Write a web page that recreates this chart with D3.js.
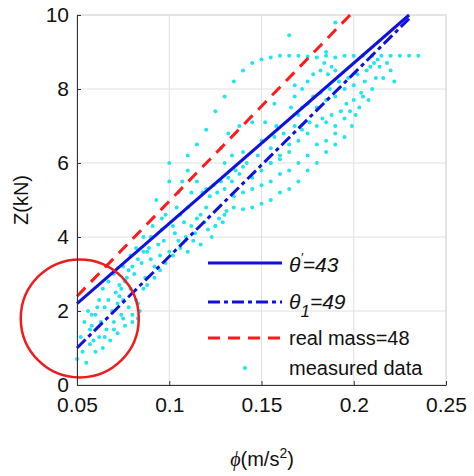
<!DOCTYPE html>
<html><head><meta charset="utf-8">
<script src="https://cdn.jsdelivr.net/npm/d3@7"></script>
<style>body{margin:0;background:#fff}text{font-family:"Liberation Sans",Arial,sans-serif}</style>
</head><body><svg id="c" width="474" height="476"></svg>
<script>
const xTicks=[0.05,0.1,0.15,0.2,0.25];
const yTicks=[0,2,4,6,8,10];
const lineTheta=[[0.05,2.2],[0.23,10]];
const lineTheta1=[[0.05,1.0],[0.23,9.9]];
const lineReal=[[0.05,2.4],[0.198,10]];
const circle={cx:0.0515,cy:1.8,rpx:59};
const measured=[
[0.050,0.7],[0.053,0.9],[0.055,0.6],[0.057,1.1],[0.060,0.9],[0.062,1.3],[0.064,1.0],[0.066,1.5],[0.068,1.2],[0.070,1.7],[0.072,1.4],[0.074,1.9],[0.076,1.6],[0.078,2.1],[0.080,1.9],[0.082,2.3],[0.084,2.0],[0.083,1.8],[0.052,1.3],[0.054,1.7],[0.056,2.0],[0.058,1.6],[0.060,1.9],[0.063,1.7],[0.065,2.1],[0.067,2.3],[0.069,2.0],[0.071,2.5],[0.073,2.7],[0.075,2.3],[0.077,2.9],[0.079,2.6],[0.081,3.0],[0.085,3.3],[0.087,2.9],[0.090,3.4],[0.088,3.6],[0.092,3.2],[0.094,3.8],[0.090,4.0],[0.096,4.2],[0.093,5.0],[0.100,5.5],[0.098,4.6],[0.102,4.3],[0.105,3.9],[0.100,3.6],[0.108,4.4],[0.110,4.8],[0.112,5.2],[0.115,5.5],[0.118,5.2],[0.120,4.8],[0.115,4.5],[0.100,6.0],[0.074,2.6],[0.073,2.4],[0.072,2.2],[0.076,2.8],[0.078,3.1],[0.080,3.2],[0.083,3.4],[0.086,3.6],[0.089,3.7],[0.095,3.5],[0.097,3.9],[0.103,4.1],[0.106,4.6],[0.109,4.0],[0.112,4.3],[0.114,4.1],[0.117,4.6],[0.119,4.4],[0.121,4.2],[0.123,4.0],[0.125,4.3],[0.127,4.5],[0.129,4.4],[0.131,4.7],[0.120,5.3],[0.122,5.1],[0.124,5.4],[0.126,5.2],[0.128,5.5],[0.130,5.3],[0.132,5.6],[0.134,5.5],[0.136,5.8],[0.138,5.7],[0.140,5.9],[0.142,6.0],
[0.130,6.0],[0.128,6.4],[0.132,6.8],[0.138,7.0],[0.145,7.1],[0.152,7.1],[0.158,7.0],[0.162,6.8],[0.165,6.5],[0.160,6.2],[0.155,6.0],[0.148,6.2],[0.140,6.3],[0.134,6.2],[0.150,6.6],[0.155,6.4],[0.157,6.7],
[0.125,4.3],[0.130,4.6],[0.135,4.8],[0.140,4.75],[0.145,4.8],[0.150,4.9],[0.155,5.0],[0.160,5.2],[0.165,5.3],[0.170,5.5],[0.175,5.8],[0.180,6.0],[0.185,6.3],[0.190,6.5],[0.195,6.7],[0.190,6.8],[0.185,6.6],[0.180,6.5],[0.175,6.2],[0.170,6.0],[0.165,5.8],[0.160,5.7],[0.155,5.5],[0.150,5.4],[0.145,5.3],[0.140,5.2],[0.135,5.1],[0.145,5.6],[0.150,5.8],[0.155,6.0],[0.160,6.1],[0.165,6.3],[0.170,6.6],[0.175,6.8],[0.180,7.0],[0.185,7.1],[0.190,7.0],[0.195,7.2],
[0.120,6.9],[0.125,7.4],[0.130,7.8],[0.135,8.2],[0.140,8.5],[0.145,8.7],[0.150,8.8],[0.155,8.85],[0.160,8.9],[0.165,8.9],[0.170,8.9],[0.175,8.88],[0.180,8.85],[0.185,8.9],[0.190,8.85],[0.195,8.9],[0.200,8.9],[0.205,8.9],[0.210,8.9],[0.215,8.9],[0.220,8.9],[0.225,8.9],[0.230,8.9],[0.235,8.9],[0.115,6.5],[0.110,6.2],
[0.170,7.3],[0.172,7.5],[0.175,7.6],[0.178,7.8],[0.180,7.5],[0.182,7.9],[0.185,7.7],[0.187,8.0],[0.190,7.8],[0.192,8.2],[0.195,8.0],[0.197,8.3],[0.200,8.1],[0.202,8.4],[0.204,7.9],[0.206,8.2],[0.208,7.7],[0.210,8.0],[0.212,8.3],[0.214,8.6],[0.216,8.3],[0.218,8.7],[0.220,8.5],[0.222,8.2],[0.196,7.6],[0.198,7.4],[0.200,7.7],[0.203,7.5],[0.205,7.8],[0.207,8.5],[0.209,8.6],[0.211,8.7],[0.213,8.8],[0.190,8.5],[0.188,8.6],[0.186,8.4],[0.184,8.7],[0.182,8.5],[0.178,8.4],[0.175,8.2],[0.172,8.0],[0.168,7.8],[0.166,7.5],[0.183,7.2],[0.188,7.3],[0.193,7.4],[0.199,7.0],[0.201,7.3],[0.176,7.1],[0.172,6.9],[0.168,7.0],
[0.190,9.8],[0.165,9.45],[0.185,9.0],[0.168,8.1],[0.157,7.6],[0.110,5.8],[0.107,5.5],[0.105,5.2],[0.104,4.8],[0.096,4.5],[0.091,4.3],[0.086,4.0],[0.082,3.7],[0.079,3.5],[0.075,3.2],[0.070,3.0],[0.067,2.8],[0.064,2.6],[0.062,2.3],[0.061,2.1],[0.058,1.9],[0.057,1.5],[0.059,1.2],[0.065,1.3],[0.070,1.5],[0.075,1.8],[0.080,1.7],[0.083,2.2],[0.086,2.6],[0.088,2.7],[0.092,2.9],[0.095,3.1],[0.098,3.3],[0.102,3.5],[0.106,3.7],[0.110,3.6],[0.113,3.9],[0.117,3.8]
];
const legendLabels=["θ′=43","θ1=49","real mass=48","measured data"];

const svg=d3.select("#c");
const m={l:77,r:446,t:15,b:385};
const x=d3.scaleLinear().domain([0.05,0.25]).range([m.l,m.r]);
const y=d3.scaleLinear().domain([0,10]).range([m.b,m.t]);
const g=svg.append("g");
g.selectAll(".gx").data(xTicks).join("line").attr("x1",d=>x(d)).attr("x2",d=>x(d)).attr("y1",m.t).attr("y2",m.b).attr("stroke","#e0e0e0");
g.selectAll(".gy").data(yTicks).join("line").attr("y1",d=>y(d)).attr("y2",d=>y(d)).attr("x1",m.l).attr("x2",m.r).attr("stroke","#e0e0e0");
g.append("rect").attr("x",m.l).attr("y",m.t).attr("width",m.r-m.l).attr("height",m.b-m.t).attr("fill","none").attr("stroke","#d8d8d8");
g.selectAll(".pt").data(measured).join("circle").attr("cx",d=>x(d[0])).attr("cy",d=>y(d[1])).attr("r",2).attr("fill","#1ee6f0");
const ln=d3.line().x(d=>x(d[0])).y(d=>y(d[1]));
g.append("path").attr("d",ln(lineReal)).attr("stroke","#ff1a1a").attr("stroke-width",3).attr("stroke-dasharray","12,8").attr("fill","none");
g.append("path").attr("d",ln(lineTheta1)).attr("stroke","#1010e0").attr("stroke-width",3).attr("stroke-dasharray","12,4,4,4").attr("fill","none");
g.append("path").attr("d",ln(lineTheta)).attr("stroke","#1010e0").attr("stroke-width",3).attr("fill","none");
g.append("ellipse").attr("cx",x(circle.cx)).attr("cy",y(circle.cy)).attr("rx",circle.rpx).attr("ry",circle.rpx).attr("fill","none").attr("stroke","#ee1c1c").attr("stroke-width",2.5);
const ax=g.append("g").attr("transform",`translate(0,${m.b})`).call(d3.axisBottom(x).tickValues(xTicks).tickFormat(d3.format("~g")).tickSizeInner(-4).tickSizeOuter(0).tickPadding(9));
const ay=g.append("g").attr("transform",`translate(${m.l},0)`).call(d3.axisLeft(y).tickValues(yTicks).tickSizeInner(-4).tickSizeOuter(0).tickPadding(8));
[ax,ay].forEach(a=>{a.selectAll("text").attr("font-size",21).attr("fill","#111").style("font-family","Liberation Sans");a.select(".domain").attr("stroke","#333");a.selectAll("line").attr("stroke","#333");});
ax.selectAll("text").attr("dy","0.85em");
svg.append("text").attr("transform","translate(28,200) rotate(-90)").attr("text-anchor","middle").attr("font-size",20).attr("fill","#111").text("Z(kN)");
const xl=svg.append("text").attr("x",262).attr("y",466).attr("text-anchor","middle").attr("font-size",20).attr("fill","#111");
xl.append("tspan").attr("font-family","Liberation Serif").attr("font-style","italic").text("ϕ");
xl.append("tspan").text("(m/s");
xl.append("tspan").attr("dy",-8).attr("font-size",14).text("2");
xl.append("tspan").attr("dy",8).text(")");
const L=svg.append("g");
const ly=[263,302,338,368];
L.append("line").attr("x1",208).attr("x2",282).attr("y1",ly[0]).attr("y2",ly[0]).attr("stroke","#1010e0").attr("stroke-width",3);
L.append("line").attr("x1",208).attr("x2",282).attr("y1",ly[1]).attr("y2",ly[1]).attr("stroke","#1010e0").attr("stroke-width",3).attr("stroke-dasharray","12,4,4,4");
L.append("line").attr("x1",208).attr("x2",282).attr("y1",ly[2]).attr("y2",ly[2]).attr("stroke","#ff1a1a").attr("stroke-width",3).attr("stroke-dasharray","12,8");
L.append("circle").attr("cx",245).attr("cy",ly[3]).attr("r",2).attr("fill","#1ee6f0");
const t1=L.append("text").attr("x",289).attr("y",ly[0]+9).attr("font-size",21).attr("font-family","Liberation Serif").attr("font-style","italic").attr("fill","#111");
t1.append("tspan").text("θ");t1.append("tspan").attr("dy",-10).attr("font-size",13).text("′");t1.append("tspan").attr("dy",10).text("=43");
const t2=L.append("text").attr("x",289).attr("y",ly[1]+7).attr("font-size",21).attr("font-family","Liberation Serif").attr("font-style","italic").attr("fill","#111");
t2.append("tspan").text("θ");t2.append("tspan").attr("dy",8).attr("font-size",17).text("1");t2.append("tspan").attr("dy",-8).text("=49");
L.append("text").attr("x",289).attr("y",ly[2]+7).attr("font-size",20).attr("fill","#111").text(legendLabels[2]);
L.append("text").attr("x",289).attr("y",ly[3]+7).attr("font-size",20).attr("fill","#111").text(legendLabels[3]);
</script></body></html>
